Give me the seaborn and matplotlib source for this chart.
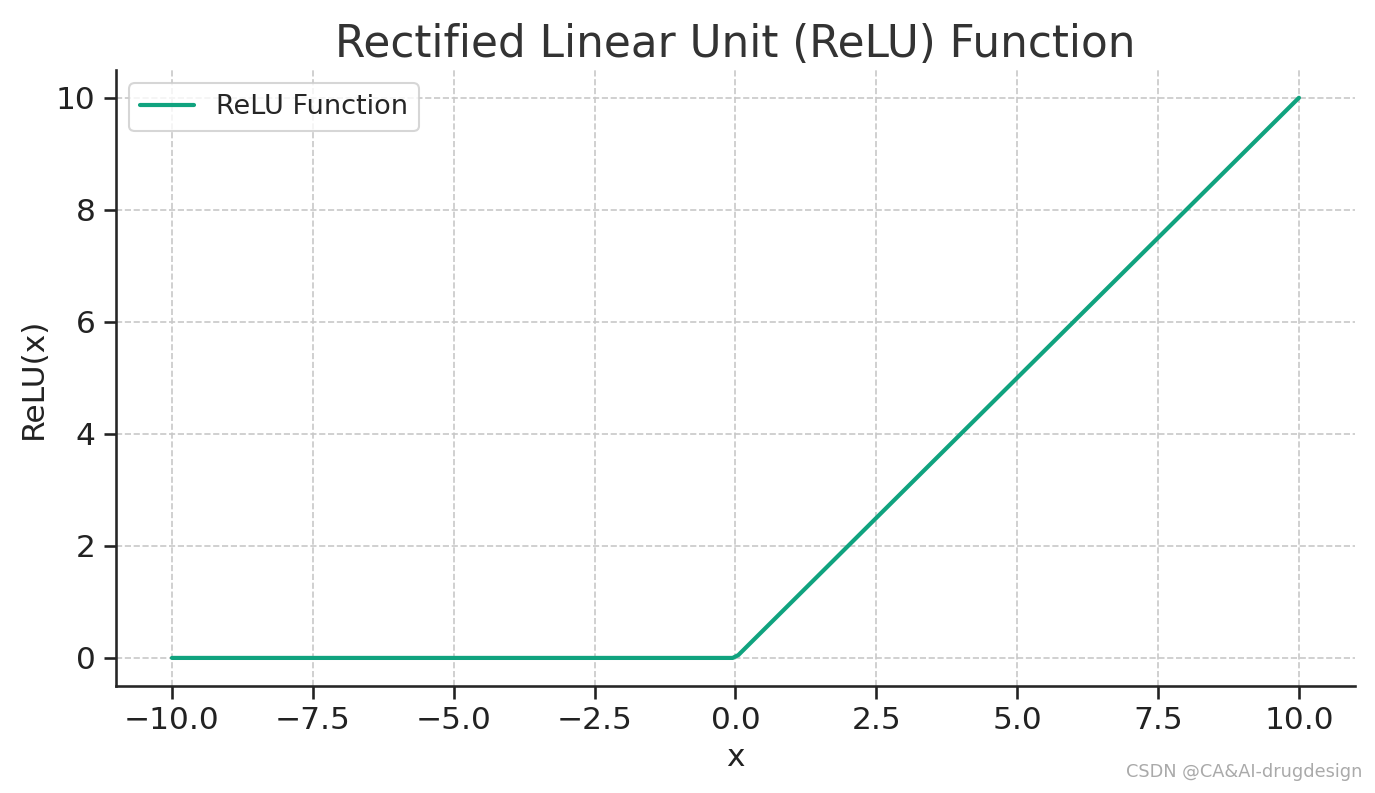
import matplotlib
matplotlib.use("Agg")
import matplotlib.pyplot as plt
import seaborn as sns
import pandas as pd

x_values = [-10.0, -5.0, -0.05, 0.05, 5.0, 10.0]
relu_values = [0.0, 0.0, 0.0, 0.05, 5.0, 10.0]
x_ticks = [-10.0, -7.5, -5.0, -2.5, 0.0, 2.5, 5.0, 7.5, 10.0]
y_ticks = [0, 2, 4, 6, 8, 10]

sns.set_theme(style="ticks")
plt.rcParams['font.family'] = ['DejaVu Sans']

df = pd.DataFrame({"x": x_values, "y": relu_values})
fig = plt.figure(figsize=(9.173, 5.287), dpi=150)
ax = fig.add_axes([0.084, 0.135, 0.901, 0.777])
sns.lineplot(data=df, x="x", y="y", ax=ax, color="#10a37f", linewidth=2, label="ReLU Function")
ax.set_xlim(-11, 11)
ax.set_ylim(-0.5, 10.5)
ax.set_xticks(x_ticks)
ax.set_xticklabels([f"{t:.1f}".replace("-", "\u2212") for t in x_ticks])
ax.set_yticks(y_ticks)
ax.tick_params(labelsize=15, colors="#222222")
ax.grid(True, linestyle="--", color="#c8c8c8", linewidth=0.8)
sns.despine(ax=ax)
ax.set_title("Rectified Linear Unit (ReLU) Function", fontsize=21, color="#333333")
ax.set_xlabel("x", fontsize=15, color="#222222")
ax.set_ylabel("ReLU(x)", fontsize=15, color="#222222")
ax.legend(loc="upper left", fontsize=13)
fig.text(0.99, 0.015, "CSDN @CA&AI-drugdesign", ha="right", va="bottom", fontsize=8.5, color="#aaaaaa")
fig.savefig("out.png", dpi=150)
